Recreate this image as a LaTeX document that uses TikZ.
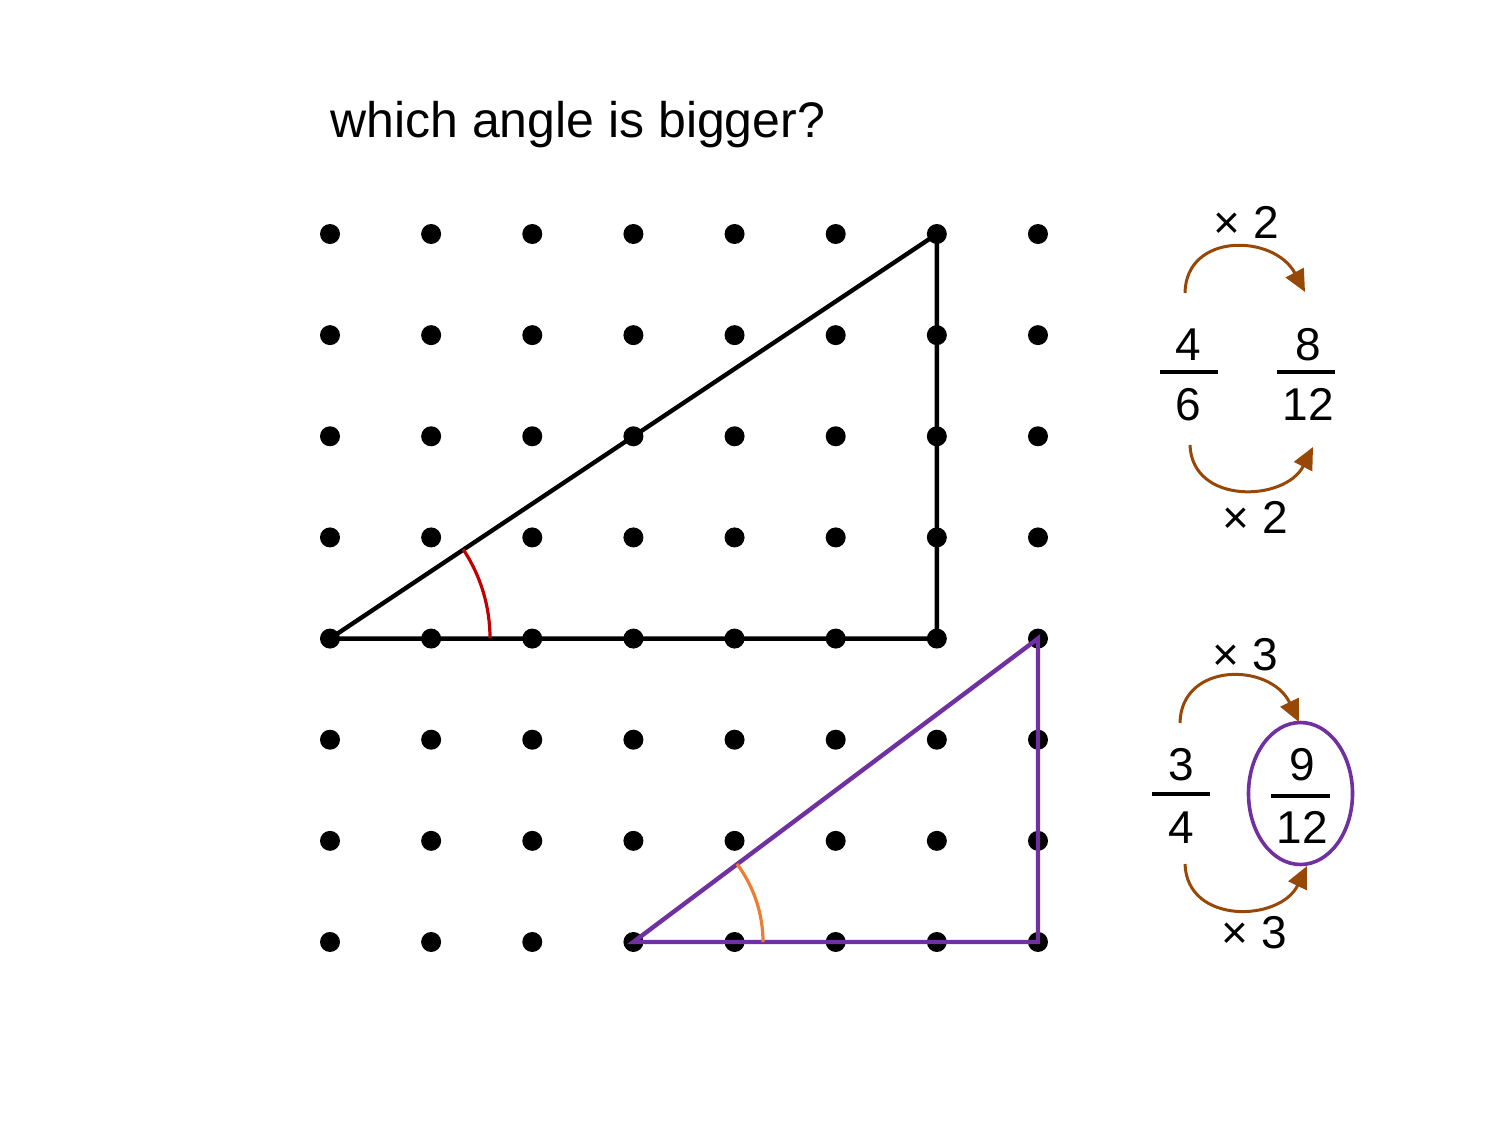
\documentclass[tikz,border=0pt]{standalone}
\usepackage{fontspec}
\setmainfont{Liberation Sans}
\usepackage{tikz}
\usetikzlibrary{arrows.meta}
\usetikzlibrary{positioning}
\definecolor{trired}{RGB}{192,0,0}
\definecolor{triorange}{RGB}{237,125,49}
\definecolor{tripurple}{RGB}{112,48,160}
\definecolor{arrbrown}{RGB}{151,71,6}

\begin{document}
\begin{tikzpicture}[x=0.5pt,y=0.5pt,yscale=-1,xscale=1,
    gdot/.style={circle,fill=black,inner sep=0pt,minimum size=10pt},
    digit/.style={anchor=base,inner sep=0pt,font=\fontsize{23}{27}\selectfont},
    fbar/.style={line width=1.6pt},
    mularr/.style={arrbrown,line width=1.5pt,-{Triangle[length=11pt,width=10pt]}}]
        \useasboundingbox (0,0) rectangle (1500,1125);

        % Text Node
        \node (title) at (330,137) [anchor=base west,inner sep=0pt,font=\fontsize{25}{30}\selectfont] {which angle is bigger?};

        %Dot grid
        \foreach \i in {0,...,7}
          \foreach \j in {0,...,7}
            \node[gdot] (p-\i-\j) at ({330+101.14*\i},{234+101.14*\j}) {};

        %Shape: Triangle (black)
        \draw [line width=2.2pt,line join=miter] (p-0-4.center) -- (p-6-0.center) -- (p-6-4.center) -- cycle ;
        %Shape: Triangle (purple)
        \draw [tripurple,line width=2.2pt,line join=miter] (p-3-7.center) -- (p-7-4.center) -- (p-7-7.center) -- cycle ;

        %Shape: Arc
        \draw [trired,line width=1.6pt] (490,638) arc[start angle=0,end angle=-33.6,radius=160] ;
        %Shape: Arc
        \draw [triorange,line width=1.6pt] (763,942) arc[start angle=0,end angle=-36.9,radius=130] ;

        % Text Node
        \node[digit] (n46) at (1188,360) {4};
        % Text Node
        \node[digit] (d46) at (1188,420) {6};
        % Text Node
        \node[digit] (n812) at (1308,360) {8};
        % Text Node
        \node[digit] (d812) at (1308,420) {12};
        \draw [fbar] (1160,372) -- (1218,372) ;
        \draw [fbar] (1277,372) -- (1335,372) ;

        % Text Node
        \node[digit] (m2top) at (1246,238) {× 2};
        % Text Node
        \node[digit] (m2bot) at (1255,533) {× 2};
        \coordinate (a1s) at (1185,293);
        \coordinate (a1e) at (1305,292);
        \coordinate (b1s) at (1190,445);
        \coordinate (b1e) at (1313,447);
        %Curve Lines
        \draw [mularr] (a1s) .. controls (1186,232) and (1274,234) .. (a1e) ;
        %Curve Lines
        \draw [mularr] (b1s) .. controls (1192,505) and (1285,502) .. (b1e) ;

        % Text Node
        \node[digit] (n34) at (1181,780) {3};
        % Text Node
        \node[digit] (d34) at (1181,843) {4};
        % Text Node
        \node[digit] (n912) at (1302,780) {9};
        % Text Node
        \node[digit] (d912) at (1302,843) {12};
        \draw [fbar] (1152,794) -- (1210,794) ;
        \draw [fbar] (1271,796) -- (1330,796) ;
        %Shape: Ellipse
        \draw [tripurple,line width=1.8pt] (1300.5,793.5) ellipse [x radius=52,y radius=71] ;

        % Text Node
        \node[digit] (m3top) at (1245,670) {× 3};
        % Text Node
        \node[digit] (m3bot) at (1254,948) {× 3};
        \coordinate (a2s) at (1180,723);
        \coordinate (a2e) at (1299,722);
        \coordinate (b2s) at (1185,864);
        \coordinate (b2e) at (1307,866);
        %Curve Lines
        \draw [mularr] (a2s) .. controls (1181,662) and (1270,662) .. (a2e) ;
        %Curve Lines
        \draw [mularr] (b2s) .. controls (1187,925) and (1280,922) .. (b2e) ;
    \end{tikzpicture}
\end{document}
